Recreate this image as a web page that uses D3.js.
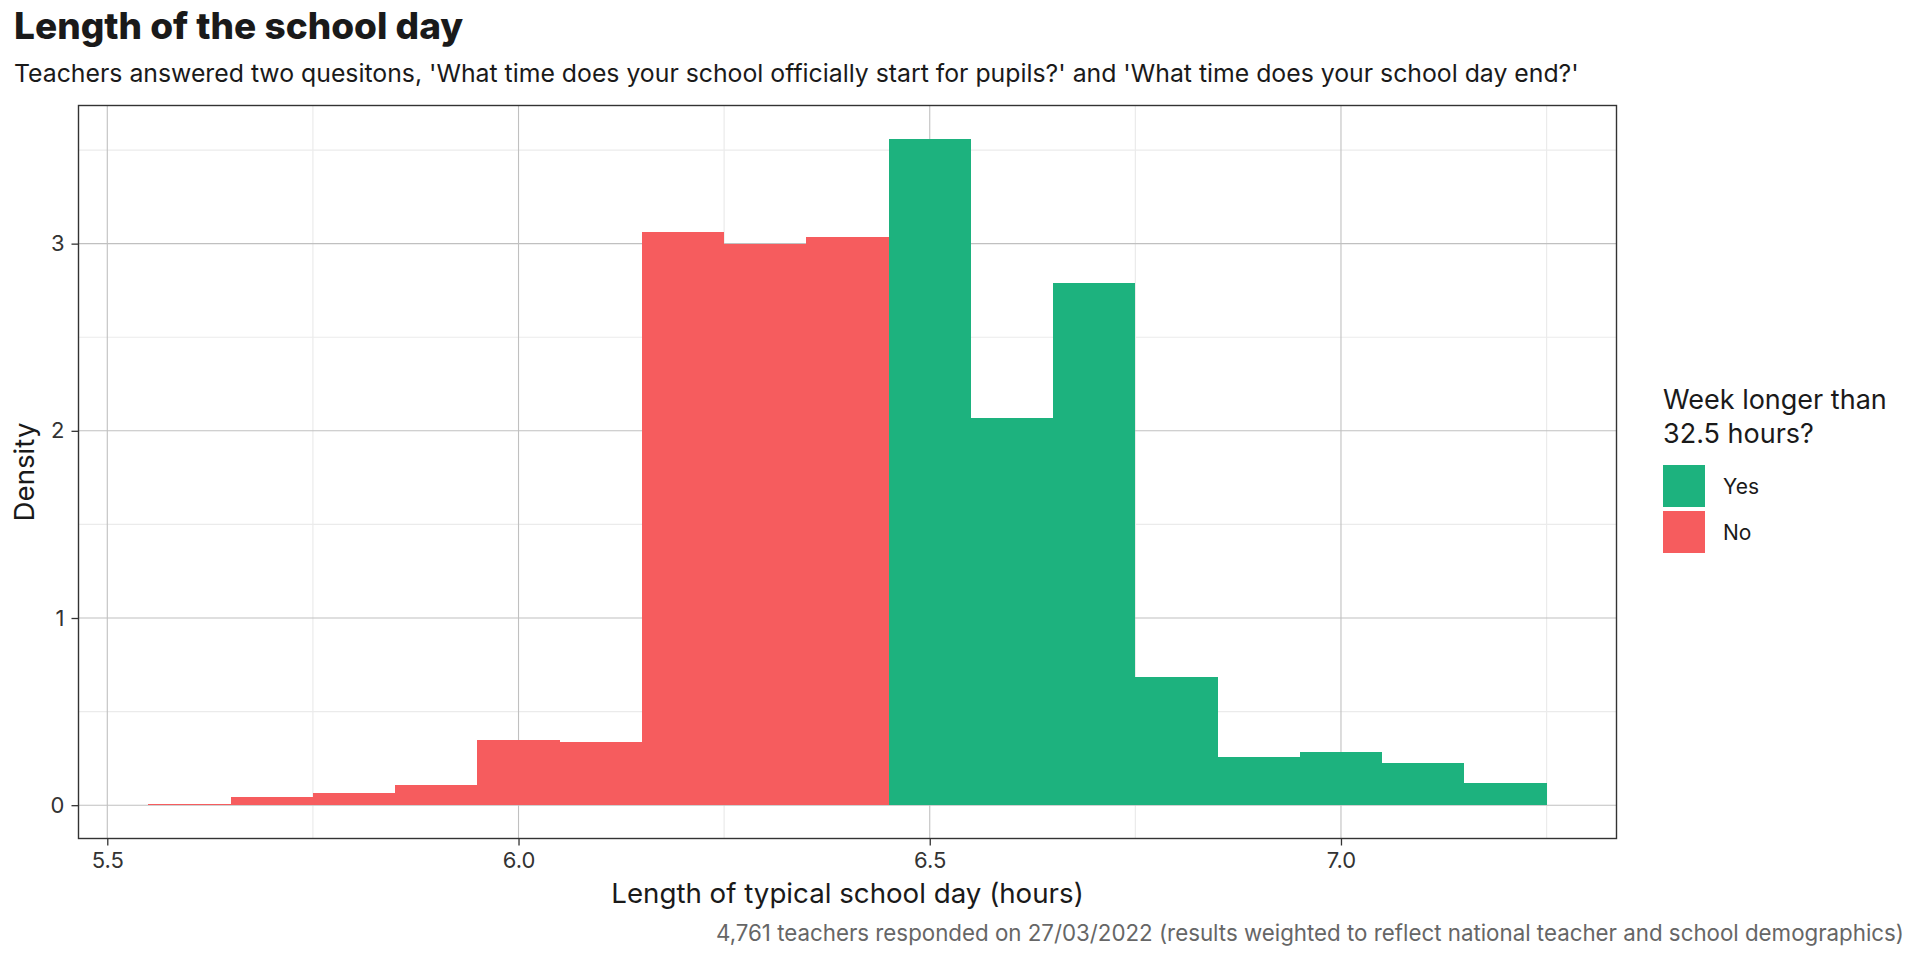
<!DOCTYPE html>
<meta charset="utf-8">
<style>
    body {
        margin: 0;
        background-color: #fff;
    }

    text {
        font-family: Inter, "Open Sans", sans-serif;
        fill: #1a1a1a;
    }

    .title {
        font-size: 37px;
        font-weight: 800;
    }

    .subtitle {
        font-size: 24.8px;
    }

    .caption {
        font-size: 22.3px;
        fill: #666;
        text-anchor: end;
    }

    .axis text {
        font-size: 22px;
        fill: #333;
    }

    .axis-title {
        font-size: 27.7px;
        text-anchor: middle;
    }

    .legend-title {
        font-size: 27px;
    }

    .legend-label {
        font-size: 21px;
    }
</style>

<body>
    <svg width="1920" height="960"></svg>
</body>

<script src="https://d3js.org/d3.v7.min.js"></script>
<script>

    // histogram bins, width 0.1 hours
    var binWidth = 0.1;
    var binMids = [5.6, 5.7, 5.8, 5.9, 6.0, 6.1, 6.2, 6.3, 6.4, 6.5, 6.6, 6.7, 6.8, 6.9, 7.0, 7.1, 7.2];
    var density = [0.005, 0.044, 0.066, 0.11, 0.35, 0.337, 3.062, 2.996, 3.034, 3.56, 2.067, 2.79, 0.687, 0.259, 0.286, 0.224, 0.121];
    var longerWeek = ["No", "No", "No", "No", "No", "No", "No", "No", "No",
        "Yes", "Yes", "Yes", "Yes", "Yes", "Yes", "Yes", "Yes"];

    var groups = ["Yes", "No"];
    var groupColors = ["#1db27e", "#f65c5e"];

    var xTicks = [5.5, 6.0, 6.5, 7.0];
    var xMinor = [5.75, 6.25, 6.75, 7.25];
    var yTicks = [0, 1, 2, 3];
    var yMinor = [0.5, 1.5, 2.5, 3.5];

    var titleText = "Length of the school day";
    var subtitleText = "Teachers answered two quesitons, 'What time does your school officially start for pupils?' and 'What time does your school day end?'";
    var captionText = "4,761 teachers responded on 27/03/2022 (results weighted to reflect national teacher and school demographics)";
    var xLabel = "Length of typical school day (hours)";
    var yLabel = "Density";
    var legendTitle = ["Week longer than", "32.5 hours?"];

    var bars = binMids.map(function (m, i) {
        return { x0: m - binWidth / 2, x1: m + binWidth / 2, y: density[i], group: longerWeek[i] };
    });

    var svg = d3.select("svg");

    var panel = { left: 78.5, right: 1616.5, top: 105.5, bottom: 838.5 };

    // ggplot style 5% expansion
    var xLo = d3.min(bars, function (d) { return d.x0; }),
        xHi = d3.max(bars, function (d) { return d.x1; }),
        yHi = d3.max(density);
    var xPad = (xHi - xLo) * 0.05, yPad = yHi * 0.05;

    var x = d3.scaleLinear()
        .domain([xLo - xPad, xHi + xPad])
        .range([panel.left, panel.right]);

    var y = d3.scaleLinear()
        .domain([-yPad, yHi + yPad])
        .range([panel.bottom, panel.top]);

    var color = d3.scaleOrdinal().domain(groups).range(groupColors);

    // grid
    var grid = svg.append("g");
    grid.selectAll(".xminor").data(xMinor).enter().append("line")
        .attr("x1", x).attr("x2", x)
        .attr("y1", panel.top).attr("y2", panel.bottom)
        .attr("stroke", "#ebebeb").attr("stroke-width", 1.2);
    grid.selectAll(".yminor").data(yMinor).enter().append("line")
        .attr("y1", y).attr("y2", y)
        .attr("x1", panel.left).attr("x2", panel.right)
        .attr("stroke", "#ebebeb").attr("stroke-width", 1.2);
    grid.selectAll(".xmajor").data(xTicks).enter().append("line")
        .attr("x1", x).attr("x2", x)
        .attr("y1", panel.top).attr("y2", panel.bottom)
        .attr("stroke", "#c0c0c0").attr("stroke-width", 1.1);
    grid.selectAll(".ymajor").data(yTicks).enter().append("line")
        .attr("y1", y).attr("y2", y)
        .attr("x1", panel.left).attr("x2", panel.right)
        .attr("stroke", "#c0c0c0").attr("stroke-width", 1.1);

    // bars
    svg.append("g").selectAll("rect")
        .data(bars)
        .enter().append("rect")
        .attr("x", function (d) { return x(d.x0); })
        .attr("width", function (d) { return x(d.x1) - x(d.x0); })
        .attr("y", function (d) { return y(d.y); })
        .attr("height", function (d) { return y(0) - y(d.y); })
        .attr("fill", function (d) { return color(d.group); })
        .attr("shape-rendering", "crispEdges");

    // panel border
    svg.append("rect")
        .attr("x", panel.left).attr("y", panel.top)
        .attr("width", panel.right - panel.left)
        .attr("height", panel.bottom - panel.top)
        .attr("fill", "none")
        .attr("stroke", "#333").attr("stroke-width", 1.4);

    // axes
    svg.append("g")
        .attr("class", "axis")
        .attr("transform", "translate(0," + panel.bottom + ")")
        .call(d3.axisBottom(x).tickValues(xTicks).tickFormat(d3.format(".1f")).tickSize(7).tickPadding(7));
    svg.append("g")
        .attr("class", "axis")
        .attr("transform", "translate(" + panel.left + ",0)")
        .call(d3.axisLeft(y).tickValues(yTicks).tickFormat(d3.format("d")).tickSize(7).tickPadding(7));
    svg.selectAll(".axis .domain").remove();
    svg.selectAll(".axis line").attr("stroke", "#333").attr("stroke-width", 1.3);
    svg.selectAll(".axis text").attr("font-family", null).attr("font-size", null);

    // axis titles
    svg.append("text")
        .attr("class", "axis-title")
        .attr("x", (panel.left + panel.right) / 2)
        .attr("y", 903)
        .text(xLabel);
    svg.append("text")
        .attr("class", "axis-title")
        .attr("transform", "translate(34," + ((panel.top + panel.bottom) / 2) + ") rotate(-90)")
        .text(yLabel);

    // titles
    svg.append("text").attr("class", "title").attr("x", 14).attr("y", 39).text(titleText);
    svg.append("text").attr("class", "subtitle").attr("x", 14).attr("y", 82).text(subtitleText);
    svg.append("text").attr("class", "caption").attr("x", 1904).attr("y", 941).text(captionText);

    // legend
    var legend = svg.append("g").attr("transform", "translate(1663,0)");
    legend.selectAll(".legend-title").data(legendTitle).enter().append("text")
        .attr("class", "legend-title")
        .attr("y", function (d, i) { return 409 + i * 34; })
        .text(function (d) { return d; });
    var item = legend.selectAll(".item").data(groups).enter().append("g")
        .attr("transform", function (d, i) { return "translate(0," + (465 + i * 46) + ")"; });
    item.append("rect")
        .attr("width", 42).attr("height", 42)
        .attr("fill", function (d) { return color(d); });
    item.append("text")
        .attr("class", "legend-label")
        .attr("x", 60).attr("y", 29)
        .text(function (d) { return d; });
</script>
